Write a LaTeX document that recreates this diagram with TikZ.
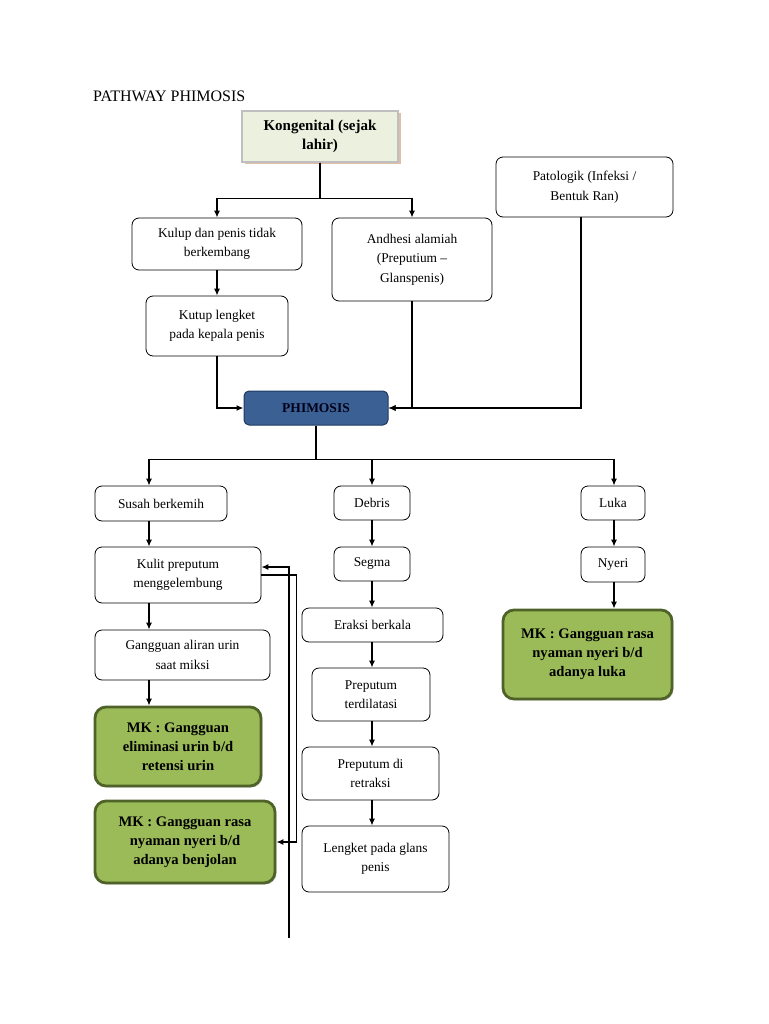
\documentclass[tikz,border=0pt]{standalone}
\usepackage{fontspec}
\setmainfont{Liberation Serif}
\usetikzlibrary{arrows.meta,shadows}

\definecolor{konfill}{HTML}{EBF1DE}
\definecolor{konshadow}{HTML}{C0804D}
\definecolor{phimfill}{HTML}{3B6194}
\definecolor{phimline}{HTML}{1F3A5F}
\definecolor{mkfill}{HTML}{9BBB59}
\definecolor{mkline}{HTML}{4F6228}

\begin{document}
\begin{tikzpicture}[x=1pt, y=-1pt,
  font=\fontsize{13.4}{19.5}\selectfont,
  box/.style={draw, rounded corners=7pt, align=center, fill=white, inner sep=2pt, line width=0.8pt},
  mk/.style={draw=mkline, line width=2.8pt, rounded corners=11pt, align=center, fill=mkfill, inner sep=2pt,
    font=\fontsize{14.6}{19}\selectfont\bfseries, drop shadow={shadow xshift=1.5pt, shadow yshift=-1.5pt, fill=black!35}},
  arrow/.style={-{Latex[length=7pt, width=6pt]}, line width=1.3pt},
  line/.style={line width=1.3pt}
]
\useasboundingbox (0,0) rectangle (768,1024);

\node[anchor=west, font=\fontsize{16}{18}\selectfont, inner sep=0pt] (title) at (93,96) {PATHWAY PHIMOSIS};

\node[draw=black!25, line width=1.2pt, fill=konfill, align=center, minimum width=156pt, minimum height=51pt,
  font=\fontsize{15}{19.5}\selectfont\bfseries, drop shadow={shadow xshift=2.5pt, shadow yshift=-2.5pt, fill=konshadow}]
  (kong) at (320,136.5) {Kongenital (sejak\\lahir)};
\node[box, minimum width=177pt, minimum height=60pt] (patol) at (584.5,187) {Patologik (Infeksi /\\Bentuk Ran)};

\node[box, minimum width=170pt, minimum height=52pt] (kulup) at (217,244) {Kulup dan penis tidak\\berkembang};
\node[box, minimum width=142pt, minimum height=60pt] (kutup) at (217,326) {Kutup lengket\\pada kepala penis};
\node[box, minimum width=160pt, minimum height=83pt] (andhesi) at (412,259.5) {Andhesi alamiah\\(Preputium --\\Glanspenis)};

\node[draw=phimline, line width=1pt, fill=phimfill, rounded corners=5pt, minimum width=144pt, minimum height=34pt,
  font=\fontsize{13.5}{15}\selectfont\bfseries, text=black!90!blue] (phim) at (316,408) {PHIMOSIS};

\coordinate (lcol) at (149,0);
\coordinate (mcol) at (372,0);
\coordinate (rcol) at (614,0);

\node[box, minimum width=132pt, minimum height=35pt] (susah) at (161,503.5) {Susah berkemih};
\node[box, minimum width=166pt, minimum height=56pt] (kulit) at (178,575) {Kulit preputum\\menggelembung};
\node[box, minimum width=175pt, minimum height=50pt] (ganggu) at (182.5,655) {Gangguan aliran urin\\saat miksi};
\node[mk, minimum width=166pt, minimum height=79pt] (mka) at (178,746.5) {MK : Gangguan\\eliminasi urin b/d\\retensi urin};
\node[mk, minimum width=180pt, minimum height=82pt] (mkb) at (185,842) {MK : Gangguan rasa\\nyaman nyeri b/d\\adanya benjolan};

\node[box, minimum width=76pt, minimum height=34pt] (debris) at (372,503) {Debris};
\node[box, minimum width=76pt, minimum height=34pt] (segma) at (372,564) {Segma};
\node[box, minimum width=141pt, minimum height=34pt] (eraksi) at (372.5,625) {Eraksi berkala};
\node[box, minimum width=118pt, minimum height=53pt] (dilat) at (371,694.5) {Preputum\\terdilatasi};
\node[box, minimum width=137pt, minimum height=53pt] (retrak) at (370.5,773.5) {Preputum di\\retraksi};
\node[box, minimum width=147pt, minimum height=66pt] (lengket) at (375.5,859) {Lengket pada glans\\penis};

\node[box, minimum width=64pt, minimum height=34pt] (luka) at (613,503) {Luka};
\node[box, minimum width=64pt, minimum height=35pt] (nyeri) at (613,564.5) {Nyeri};
\node[mk, minimum width=169pt, minimum height=89pt] (mkc) at (587.5,654.5) {MK : Gangguan rasa\\nyaman nyeri b/d\\adanya luka};

\draw[arrow] (kong.south) -- ++(0,36) -| (kulup.north);
\draw[arrow] (kong.south) -- ++(0,36) -| (andhesi.north);
\draw[arrow] (kulup.south) -- (kutup.north);
\draw[arrow] (kutup.south) |- (phim.west);
\draw[arrow] (andhesi.south) |- (phim.east);
\draw[arrow] (patol.south -| 581,0) |- (phim.east);

\draw[arrow] (phim.south) -- ++(0,34) -| (susah.north -| lcol);
\draw[arrow] (phim.south) -- ++(0,34) -| (debris.north -| mcol);
\draw[arrow] (phim.south) -- ++(0,34) -| (luka.north -| rcol);

\draw[arrow] (susah.south -| lcol) -- (kulit.north -| lcol);
\draw[arrow] (kulit.south -| lcol) -- (ganggu.north -| lcol);
\draw[arrow] (ganggu.south -| lcol) -- (mka.north -| lcol);

\draw[arrow] (debris.south -| mcol) -- (segma.north -| mcol);
\draw[arrow] (segma.south -| mcol) -- (eraksi.north -| mcol);
\draw[arrow] (eraksi.south -| mcol) -- (dilat.north -| mcol);
\draw[arrow] (dilat.south -| mcol) -- (retrak.north -| mcol);
\draw[arrow] (retrak.south -| mcol) -- (lengket.north -| mcol);

\draw[arrow] (luka.south -| rcol) -- (nyeri.north -| rcol);
\draw[arrow] (nyeri.south -| rcol) -- (mkc.north -| rcol);

\draw[arrow] (kulit.east) -- ++(35,0) |- (mkb.east);
\coordinate (loopend) at (289,938);
\draw[arrow] (loopend) |- ([yshift=8pt]kulit.east);

\end{tikzpicture}
\end{document}
